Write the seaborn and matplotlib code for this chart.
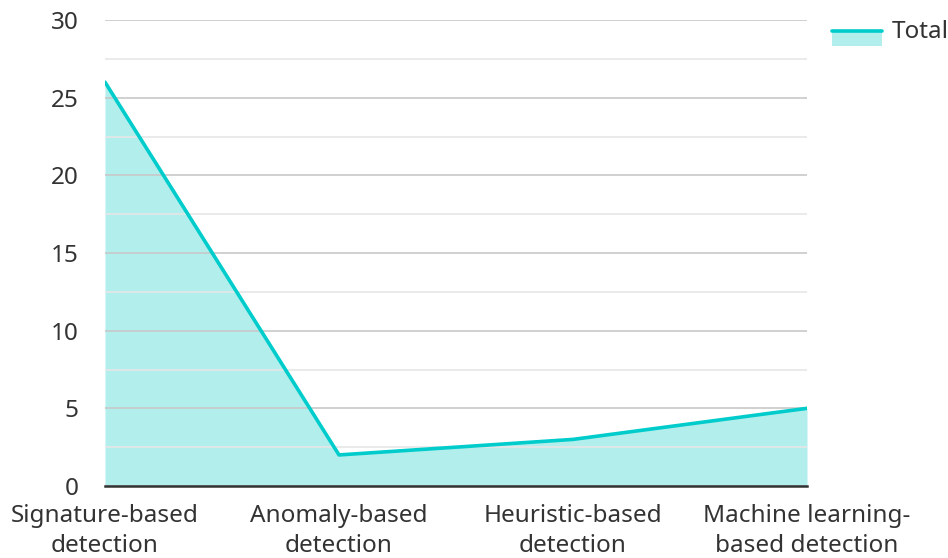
import matplotlib
matplotlib.use("Agg")
import matplotlib.pyplot as plt
import seaborn as sns
import pandas as pd
from matplotlib.legend_handler import HandlerBase
from matplotlib.patches import Rectangle
from matplotlib.lines import Line2D

categories = ["Signature-based\ndetection", "Anomaly-based\ndetection",
              "Heuristic-based\ndetection", "Machine learning-\nbased detection"]
totals = [26, 2, 3, 5]
yticks = [0, 5, 10, 15, 20, 25, 30]
minor_ticks = [2.5, 7.5, 12.5, 17.5, 22.5, 27.5]

LINE = "#00CCCC"
FILL = "#B2EEEC"
TXT = "#333333"
FS = 17.5

sns.set_style("white")
plt.rcParams["font.family"] = ["Noto Sans", "DejaVu Sans"]

df = pd.DataFrame({"category": categories, "Total": totals})

fig = plt.figure(figsize=(9.48, 5.58), dpi=100)
ax = fig.add_axes([105/948, 1-486/558, (807-105)/948, (486-20)/558])

sns.lineplot(data=df, x="category", y="Total", ax=ax, color=LINE, linewidth=2.6,
             sort=False, zorder=4)
ax.fill_between(range(len(totals)), totals, 0, color=FILL, linewidth=0, zorder=1)

ax.set_xlim(0, len(totals) - 1)
ax.set_ylim(0, 30)
ax.set_yticks(yticks)
ax.set_yticks(minor_ticks, minor=True)
ax.grid(axis="y", which="major", color="#c8c8c8", linewidth=1.2, zorder=2)
ax.grid(axis="y", which="minor", color="#e6e6e6", linewidth=1.2, zorder=2)
ax.set_axisbelow(False)
for s in ["top", "right", "left"]:
    ax.spines[s].set_visible(False)
ax.spines["bottom"].set_color("#333333")
ax.spines["bottom"].set_linewidth(1.8)
ax.spines["bottom"].set_zorder(5)
ax.tick_params(axis="both", which="both", length=0, labelsize=FS, labelcolor=TXT)
ax.tick_params(axis="y", pad=19)
ax.tick_params(axis="x", pad=13)
ax.set_xlabel("")
ax.set_ylabel("")
for lbl in ax.get_xticklabels():
    lbl.set_linespacing(1.35)


class AreaHandler(HandlerBase):
    def create_artists(self, legend, orig_handle, xdescent, ydescent, width, height, fontsize, trans):
        off = -6.5
        r = Rectangle((-xdescent, -ydescent + off), width, height, facecolor=FILL, edgecolor="none", transform=trans)
        l = Line2D([-xdescent, -xdescent + width], [-ydescent + height + off] * 2, color=LINE, linewidth=2.6, transform=trans)
        return [r, l]


handle = Rectangle((0, 0), 1, 1)
fig.legend([handle], ["Total"], handler_map={Rectangle: AreaHandler()},
           loc="upper left", bbox_to_anchor=(832/948, 1 - 20/558), frameon=False,
           fontsize=FS, labelcolor=TXT, handlelength=2.06, handleheight=0.54,
           handletextpad=0.41, borderaxespad=0, borderpad=0)

fig.savefig("out.png", dpi=100)
